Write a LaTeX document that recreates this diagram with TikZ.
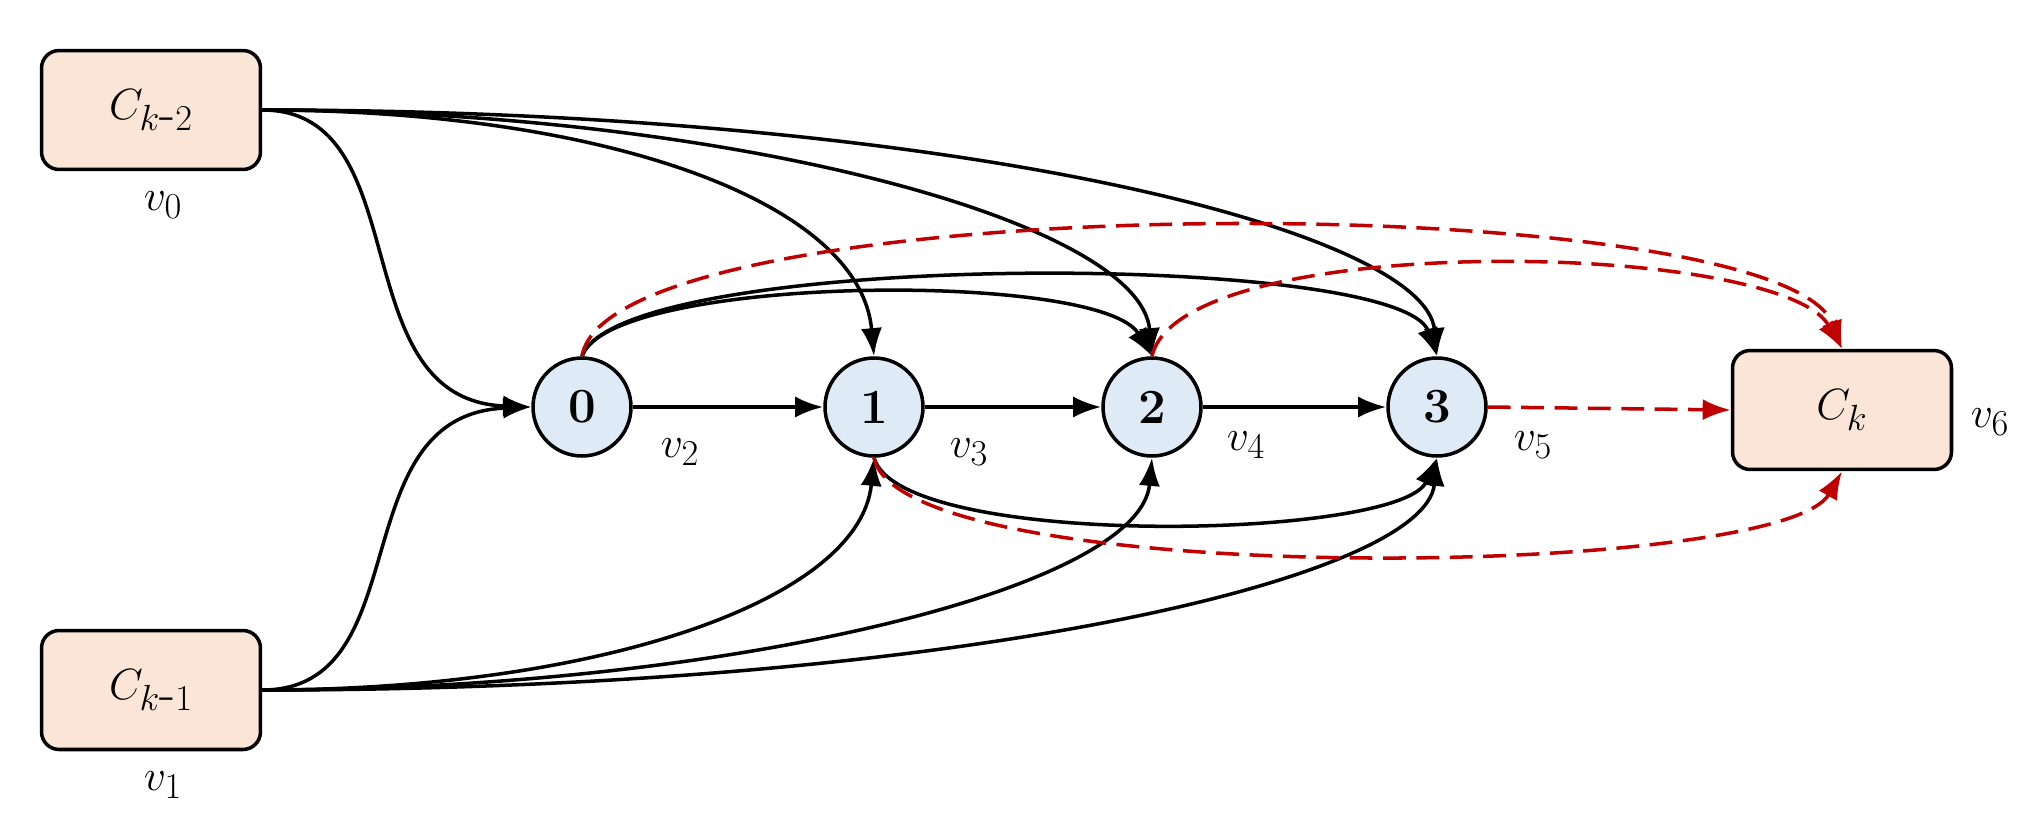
\documentclass[tikz,border=0pt]{standalone}
\usetikzlibrary{arrows.meta}
\definecolor{boxfill}{HTML}{FBE5D6}
\definecolor{cfill}{HTML}{DEEBF7}
\definecolor{dred}{HTML}{C00000}
\begin{document}
\begin{tikzpicture}[x=0.02cm,y=-0.02cm,
  box/.style={draw,line width=2pt,rounded corners=10pt,fill=boxfill,minimum width=4.38cm,minimum height=2.38cm,font=\fontsize{30}{34}\selectfont},
  cnode/.style={draw,line width=2pt,circle,fill=cfill,minimum size=1.96cm,inner sep=0pt,font=\fontsize{28}{32}\selectfont\bfseries},
  lab/.style={font=\fontsize{30}{34}\selectfont},
  edge/.style={line width=2pt,-{Latex[length=16pt,width=12pt]}},
  redge/.style={line width=2pt,dred,dash pattern=on 13pt off 6pt,-{Latex[length=16pt,width=12pt]}}]
\useasboundingbox (0,0) rectangle (2043,835);
\node[box] (a) at (151,110) {$C_{k\mbox{-}2}$};
\node[box] (b) at (151,690) {$C_{k\mbox{-}1}$};
\node[box] (c) at (1842,410) {$C_k$};
\node[cnode] (n0) at (582,407) {0};
\node[cnode] (n1) at (874,407) {1};
\node[cnode] (n2) at (1152,407) {2};
\node[cnode] (n3) at (1437,407) {3};
\node[lab] (l0) at (163,205) {$v_0$};
\node[lab] (l1) at (163,785) {$v_1$};
\node[lab] (l2) at (680,452) {$v_2$};
\node[lab] (l3) at (969,452) {$v_3$};
\node[lab] (l4) at (1246,445) {$v_4$};
\node[lab] (l5) at (1533,445) {$v_5$};
\node[lab] (l6) at (1990,422) {$v_6$};
% straight
\draw[edge] (n0) -- (n1);
\draw[edge] (n1) -- (n2);
\draw[edge] (n2) -- (n3);
\draw[redge] (n3.east) -- (c.west);
% from top box
\draw[edge] (a.east) .. controls (420,110) and (340,400) .. (n0.west);
\draw[edge] (a.east) .. controls (600,110) and (860,200) .. (n1.north);
\draw[edge] (a.east) .. controls (720,110) and (1140,220) .. (n2.north);
\draw[edge] (a.east) .. controls (950,110) and (1425,230) .. (n3.north);
% from bottom box
\draw[edge] (b.east) .. controls (420,690) and (340,415) .. (n0.west);
\draw[edge] (b.east) .. controls (600,690) and (860,600) .. (n1.south);
\draw[edge] (b.east) .. controls (720,690) and (1140,590) .. (n2.south);
\draw[edge] (b.east) .. controls (950,690) and (1425,580) .. (n3.south);
% arcs
\draw[edge] (n0.north) .. controls (610,275) and (1100,270) .. (n2.north);
\draw[edge] (n0.north) .. controls (620,250) and (1400,250) .. (n3.north);
\draw[edge] (n1.south) .. controls (900,550) and (1400,540) .. (n3.south);
\draw[redge] (n0.north) .. controls (610,185) and (1780,185) .. (c.north);
\draw[redge] (n2.north) .. controls (1180,230) and (1780,240) .. (c.north);
\draw[redge] (n1.south) .. controls (900,590) and (1780,580) .. (c.south);
\end{tikzpicture}
\end{document}
